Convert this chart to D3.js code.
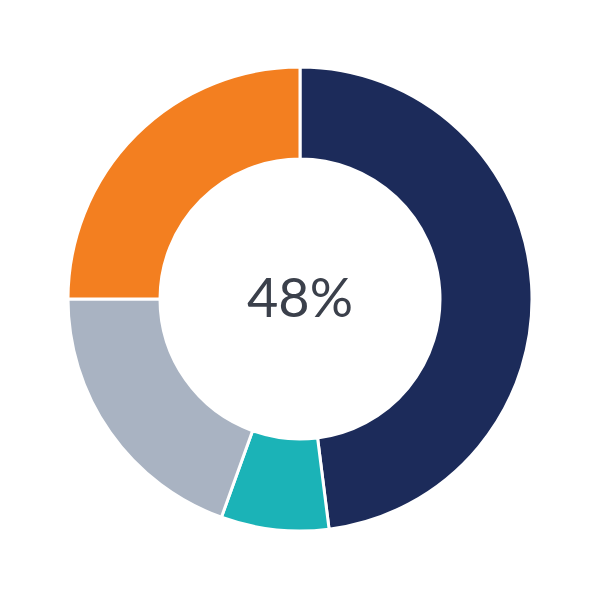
<!DOCTYPE html>
<html>
<head>
<meta charset="utf-8">
<script src="https://cdn.jsdelivr.net/npm/d3@7"></script>
<style>
  body { margin: 0; background: #fff; }
</style>
</head>
<body>
<div id="chart"></div>
<script>
// share of each slice, clockwise from 12 o'clock
var categories = ["A", "B", "C", "D"];
var values = [48, 7.5, 19.5, 25];
var colors = ["#1c2b5a", "#1bb3b7", "#a9b3c2", "#f37f20"];
var centerLabel = "48%";

var width = 600, height = 600;
var outerR = 232, innerR = 140;

var svg = d3.select("#chart")
  .append("svg")
  .attr("width", width)
  .attr("height", height)
  .append("g")
  .attr("transform", "translate(300,299)");

var pie = d3.pie().sort(null).value(function(d) { return d; });
var arc = d3.arc().innerRadius(innerR).outerRadius(outerR);

var color = d3.scaleOrdinal().domain(categories).range(colors);

svg.selectAll("path")
  .data(pie(values))
  .enter()
  .append("path")
  .attr("d", arc)
  .attr("fill", function(d, i) { return color(categories[i]); })
  .attr("stroke", "#fff")
  .attr("stroke-width", 3);

// big number in the hole
svg.append("text")
  .attr("text-anchor", "middle")
  .attr("y", 18)
  .style("font-family", "Lato, 'Open Sans', sans-serif")
  .style("font-size", "54px")
  .style("fill", "#3b404b")
  .text(centerLabel);
</script>
</body>
</html>
